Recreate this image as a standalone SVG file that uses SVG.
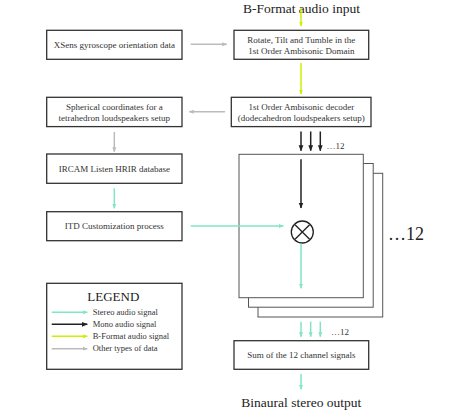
<svg xmlns="http://www.w3.org/2000/svg" width="474" height="414" viewBox="0 0 474 414">
<defs>
<style>
text{font-family:"Liberation Serif","Times New Roman",serif;fill:#333}
.box{fill:#fff;stroke:#333;stroke-width:1.3}
.stack{fill:#fff;stroke:#555;stroke-width:1}
.t{font-size:9px;text-anchor:middle}
.big{font-size:13.5px;text-anchor:middle;fill:#222}
.lg{font-size:8.5px}
.y{stroke:#ccf000;stroke-width:1.5;fill:none}
.g{stroke:#80e6c4;stroke-width:1.5;fill:none}
.k{stroke:#222;stroke-width:1.5;fill:none}
.d{stroke:#bbb;stroke-width:1.5;fill:none}
</style>
<marker id="my" viewBox="0 0 10 10" refX="9" refY="5" markerWidth="5" markerHeight="5" orient="auto" markerUnits="userSpaceOnUse"><path d="M0,1 L10,5 L0,9 z" fill="#ccf000"/></marker>
<marker id="mg" viewBox="0 0 10 10" refX="9" refY="5" markerWidth="5" markerHeight="5" orient="auto" markerUnits="userSpaceOnUse"><path d="M0,1 L10,5 L0,9 z" fill="#80e6c4"/></marker>
<marker id="mk" viewBox="0 0 10 10" refX="9" refY="5" markerWidth="6" markerHeight="6" orient="auto" markerUnits="userSpaceOnUse"><path d="M0,1 L10,5 L0,9 z" fill="#222"/></marker>
<marker id="md" viewBox="0 0 10 10" refX="9" refY="5" markerWidth="5" markerHeight="5" orient="auto" markerUnits="userSpaceOnUse"><path d="M0,1 L10,5 L0,9 z" fill="#bbb"/></marker>
</defs>
<rect width="474" height="414" fill="#fff"/>

<g id="stack">
<rect class="stack" x="258" y="173.3" width="124.7" height="143.7"/>
<rect class="stack" x="248.5" y="163.5" width="124.7" height="143.7"/>
<rect class="stack" x="239" y="154.3" width="124.3" height="143.4"/>
<text x="406" y="239.5" style="font-size:18px;text-anchor:middle;fill:#222">…12</text>
</g>

<g id="input-label"><text class="big" x="301.5" y="12.5">B-Format audio input</text></g>

<g id="n-xsens"><rect class="box" x="46.7" y="30.3" width="135.3" height="29"/><text class="t" x="114.3" y="48">XSens gyroscope orientation data</text></g>
<g id="n-rotate"><rect class="box" x="234" y="30.3" width="134.7" height="29"/><text class="t" x="301.3" y="42.5">Rotate, Tilt and Tumble in the</text><text class="t" x="301.3" y="53.5">1st Order Ambisonic Domain</text></g>
<g id="n-spherical"><rect class="box" x="46.7" y="97.3" width="135.3" height="29.3"/><text class="t" x="114.3" y="109.5">Spherical coordinates for a</text><text class="t" x="114.3" y="120.5">tetrahedron loudspeakers setup</text></g>
<g id="n-decoder"><rect class="box" x="231.3" y="97.3" width="139.7" height="29.3"/><text class="t" x="301.3" y="109.5">1st Order Ambisonic decoder</text><text class="t" x="301.3" y="120.5">(dodecahedron loudspeakers setup)</text></g>
<g id="n-ircam"><rect class="box" x="46.7" y="154" width="135.3" height="29.3"/><text class="t" x="114.3" y="171.5">IRCAM Listen HRIR database</text></g>
<g id="n-itd"><rect class="box" x="46.7" y="211.7" width="135.3" height="29"/><text class="t" x="114.3" y="229">ITD Customization process</text></g>
<g id="n-mult"><circle cx="302.3" cy="232" r="11" fill="#fff" stroke="#222" stroke-width="1.3"/><path d="M295,224.7 L309.6,239.3 M309.6,224.7 L295,239.3" stroke="#222" stroke-width="1.3"/></g>
<g id="n-sum"><rect class="box" x="234" y="340.7" width="134.7" height="28.6"/><text class="t" x="301.3" y="358">Sum of the 12 channel signals</text></g>
<g id="output-label"><text class="big" x="301.3" y="406.5">Binaural stereo output</text></g>

<g id="legend">
<rect class="box" x="46.7" y="283.3" width="135.3" height="86"/>
<text x="113.3" y="300.7" style="font-size:13px;text-anchor:middle;fill:#222">LEGEND</text>
<line class="g" x1="51.7" y1="312.3" x2="87.3" y2="312.3" marker-end="url(#mg)"/>
<line class="k" x1="51.7" y1="324.3" x2="87.3" y2="324.3" marker-end="url(#mk)"/>
<line class="y" x1="51.7" y1="336.3" x2="87.3" y2="336.3" marker-end="url(#my)"/>
<line class="d" x1="51.7" y1="348.7" x2="87.3" y2="348.7" marker-end="url(#md)"/>
<text class="lg" x="92.7" y="315">Stereo audio signal</text>
<text class="lg" x="92.7" y="327">Mono audio signal</text>
<text class="lg" x="92.7" y="339">B-Format audio signal</text>
<text class="lg" x="92.7" y="351.3">Other types of data</text>
</g>

<g id="connectors">
<line class="y" x1="301" y1="8" x2="301" y2="26" marker-end="url(#my)"/>
<line class="y" x1="301" y1="63" x2="301" y2="94" marker-end="url(#my)"/>
<line class="d" x1="190.7" y1="44.3" x2="226.7" y2="44.3" marker-end="url(#md)"/>
<line class="d" x1="225" y1="111.7" x2="189.3" y2="111.7" marker-end="url(#md)"/>
<line class="d" x1="114.3" y1="132" x2="114.3" y2="151.7" marker-end="url(#md)"/>
<line class="g" x1="114.3" y1="188.3" x2="114.3" y2="208.3" marker-end="url(#mg)"/>
<line class="g" x1="190.7" y1="226" x2="283.3" y2="226" marker-end="url(#mg)"/>
<line class="k" x1="301" y1="131.5" x2="301" y2="150.7" marker-end="url(#mk)"/>
<line class="k" x1="310.7" y1="131.5" x2="310.7" y2="150.7" marker-end="url(#mk)"/>
<line class="k" x1="320.3" y1="131.5" x2="320.3" y2="150.7" marker-end="url(#mk)"/>
<text x="326.5" y="149.3" style="font-size:9px">…12</text>
<line class="k" x1="301" y1="159.3" x2="301" y2="208" marker-end="url(#mk)"/>
<line class="g" x1="301" y1="243.5" x2="301" y2="288.3" marker-end="url(#mg)"/>
<line class="g" x1="301" y1="321.7" x2="301" y2="336.7" marker-end="url(#mg)"/>
<line class="g" x1="310.7" y1="321.7" x2="310.7" y2="336.7" marker-end="url(#mg)"/>
<line class="g" x1="320.3" y1="321.7" x2="320.3" y2="336.7" marker-end="url(#mg)"/>
<text x="331" y="335" style="font-size:9px">…12</text>
<line class="g" x1="301" y1="374" x2="301" y2="389.3" marker-end="url(#mg)"/>
</g>
</svg>
